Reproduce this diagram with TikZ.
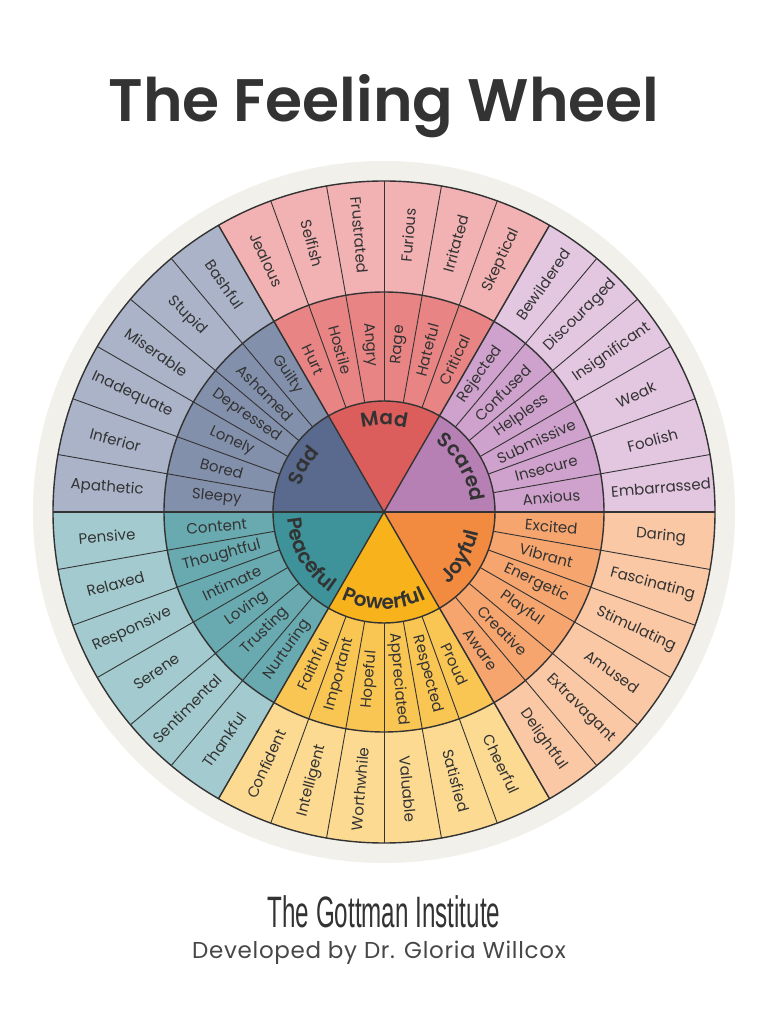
\documentclass[tikz,border=0pt]{standalone}
\usepackage{fontspec}
\setmainfont{Poppins}[BoldFont={* SemiBold}]
\newfontfamily\gottmanfont{Liberation Sans}
\usetikzlibrary{decorations.text}

\definecolor{madIn}{HTML}{DB5D5C}
\definecolor{madMid}{HTML}{E88584}
\definecolor{madOut}{HTML}{F2B1B2}
\definecolor{scaredIn}{HTML}{B780B4}
\definecolor{scaredMid}{HTML}{CFA2CD}
\definecolor{scaredOut}{HTML}{E3C6E0}
\definecolor{joyIn}{HTML}{F28A40}
\definecolor{joyMid}{HTML}{F6A56E}
\definecolor{joyOut}{HTML}{FAC8A4}
\definecolor{powerIn}{HTML}{F7B21C}
\definecolor{powerMid}{HTML}{F9C654}
\definecolor{powerOut}{HTML}{FCDA92}
\definecolor{peaceIn}{HTML}{3D9399}
\definecolor{peaceMid}{HTML}{68AAB0}
\definecolor{peaceOut}{HTML}{A3CBCF}
\definecolor{sadIn}{HTML}{596A8E}
\definecolor{sadMid}{HTML}{8390AC}
\definecolor{sadOut}{HTML}{AAB3C8}
\definecolor{ringGray}{HTML}{F1F0EB}
\definecolor{inkGray}{HTML}{333333}

\newcommand{\primFont}{\bfseries\fontsize{20}{20}\selectfont}

\begin{document}
\begin{tikzpicture}
[x=1pt,y=1pt,
  darkLine/.style={draw=inkGray,line width=1.4pt},%
  thinLine/.style={draw=inkGray,line width=0.9pt},%
  wordDecorate/.style={font=\fontsize{15}{15}\selectfont,text=inkGray,inner sep=0pt},%
  primDecorate/.style={decorate,decoration={text along path,text align=center,text color=inkGray}}]
\useasboundingbox (-384,-512) rectangle (384,512);
\fill[white] (-384,-512) rectangle (384,512);
%% backdrop ring
\fill[ringGray] (0,0) circle[radius=351];
%% coloured sectors
\foreach \b/\ci/\cm/\co in {0/scaredIn/scaredMid/scaredOut, 60/madIn/madMid/madOut,
  120/sadIn/sadMid/sadOut, 180/peaceIn/peaceMid/peaceOut,
  240/powerIn/powerMid/powerOut, 300/joyIn/joyMid/joyOut}
{
  \fill[\co] (\b:220) arc[start angle=\b, end angle={\b+60}, radius=220]
    -- ({\b+60}:331) arc[start angle={\b+60}, end angle=\b, radius=331] -- cycle;
  \fill[\cm] (\b:111) arc[start angle=\b, end angle={\b+60}, radius=111]
    -- ({\b+60}:220) arc[start angle={\b+60}, end angle=\b, radius=220] -- cycle;
  \fill[\ci] (0,0) -- (\b:111) arc[start angle=\b, end angle={\b+60}, radius=111] -- cycle;
}
%% thin spokes and sector lines
\foreach \k in {0,...,35}
{
  \draw[thinLine] ({10*\k}:111) -- ({10*\k}:331);
}
\foreach \k in {0,...,5}
{
  \draw[darkLine] (0,0) -- ({60*\k}:331);
}
\foreach \r in {111,220,331}
{
  \draw[darkLine] (0,0) circle[radius=\r];
}
%% feeling words, middle and outer rings
\foreach \a/\wordin/\wordout in {5/Anxious/Embarrassed, 15/Insecure/Foolish,
  25/Submissive/Weak, 35/Helpless/Insignificant, 45/Confused/Discouraged,
  55/Rejected/Bewildered, 65/Critical/Skeptical, 75/Hateful/Irritated,
  85/Rage/Furious, 95/Angry/Frustrated, 105/Hostile/Selfish, 115/Hurt/Jealous,
  125/Guilty/Bashful, 135/Ashamed/Stupid, 145/Depressed/Miserable,
  155/Lonely/Inadequate, 165/Bored/Inferior, 175/Sleepy/Apathetic,
  185/Content/Pensive, 195/Thoughtful/Relaxed, 205/Intimate/Responsive,
  215/Loving/Serene, 225/Trusting/Sentimental, 235/Nurturing/Thankful,
  245/Faithful/Confident, 255/Important/Intelligent, 265/Hopeful/Worthwhile,
  275/Appreciated/Valuable, 285/Respected/Satisfied, 295/Proud/Cheerful,
  305/Aware/Delightful, 315/Creative/Extravagant, 325/Playful/Amused,
  335/Energetic/Stimulating, 345/Vibrant/Fascinating, 355/Excited/Daring}
{
  \pgfmathsetmacro\rot{(\a>90 && \a<270) ? \a+180 : \a}
  \node (mid-\a) at (\a:168) [wordDecorate,rotate=\rot] {\wordin};
  \node (out-\a) at (\a:278) [wordDecorate,rotate=\rot] {\wordout};
}
%% core feelings along the inner circle
\path[primDecorate,decoration={text={|\primFont|Mad}}] (130:87) arc[start angle=130, end angle=50, radius=87];
\path[primDecorate,decoration={text={|\primFont|Scared}}] (70:87) arc[start angle=70, end angle=-10, radius=87];
\path[primDecorate,decoration={text={|\primFont|Sad}}] (190:87) arc[start angle=190, end angle=110, radius=87];
\path[primDecorate,decoration={text={|\primFont|Joyful}}] (-70:97) arc[start angle=-70, end angle=10, radius=97];
\path[primDecorate,decoration={text={|\primFont|Powerful}}] (-130:97) arc[start angle=-130, end angle=-50, radius=97];
\path[primDecorate,decoration={text={|\primFont|Peaceful}}] (-190:97) arc[start angle=-190, end angle=-110, radius=97];
%% title and credits
\node (title) at (0,390) [anchor=base,text=inkGray,font=\bfseries\fontsize{60}{60}\selectfont] {The Feeling Wheel};
\node (gottman) at (0,-415) [anchor=base,text=inkGray] {\scalebox{0.55}[1]{\gottmanfont\fontsize{44}{44}\selectfont The Gottman Institute}};
\node (credit) at (-5,-446) [anchor=base,text=inkGray!90,font=\fontsize{23}{23}\selectfont\addfontfeature{LetterSpace=3}] {Developed by Dr. Gloria Willcox};
\end{tikzpicture}
\end{document}
